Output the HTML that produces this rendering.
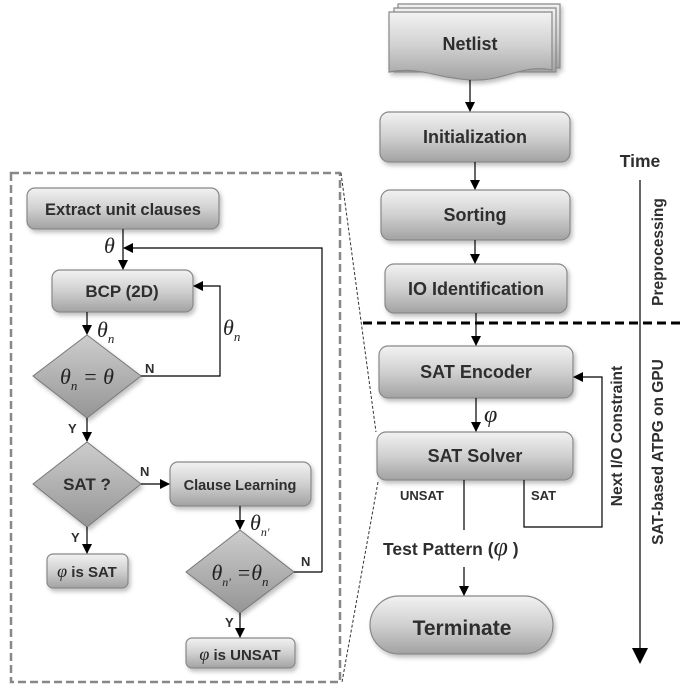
<!DOCTYPE html>
<html><head><meta charset="utf-8"><style>
html,body{margin:0;padding:0;background:#fff;}
svg{display:block;}
text{font-family:"Liberation Sans",sans-serif;font-weight:bold;fill:#2e2e2e;}
.m{font-family:"Liberation Serif",serif;font-style:italic;font-weight:normal;fill:#222;}
</style></head><body>
<svg width="685" height="691" viewBox="0 0 685 691" xmlns="http://www.w3.org/2000/svg">
<defs>
<linearGradient id="g" x1="0" y1="0" x2="0" y2="1">
<stop offset="0" stop-color="#f2f2f2"/><stop offset="0.5" stop-color="#d0d0d0"/><stop offset="1" stop-color="#a2a2a2"/>
</linearGradient>
<linearGradient id="gd" x1="0" y1="0" x2="0" y2="1">
<stop offset="0" stop-color="#cdcdcd"/><stop offset="1" stop-color="#959595"/>
</linearGradient>
<filter id="sh" x="-10%" y="-10%" width="130%" height="140%">
<feDropShadow dx="2" dy="3" stdDeviation="2" flood-color="#000" flood-opacity="0.25"/>
</filter>
<marker id="a" markerWidth="10" markerHeight="10" refX="9" refY="5" orient="auto" markerUnits="userSpaceOnUse">
<path d="M0,0 L10,5 L0,10 z" fill="#000"/></marker>
<marker id="A" markerWidth="16" markerHeight="22" refX="15" refY="8" orient="auto" markerUnits="userSpaceOnUse">
<path d="M0,0 L16,8 L0,16 z" fill="#000"/></marker>
</defs>
<g stroke="#888" stroke-width="1.2" fill="url(#g)" filter="url(#sh)">
<path d="M398,4 H560 V68 H398 z"/>
<path d="M394,8 H556 V72 H394 z"/>
<path d="M389,12 H552 V70 C520,64 505,82 470,80 C435,78 420,66 389,72 z"/>
<rect x="380" y="112" width="190" height="50" rx="9"/>
<rect x="381" y="190" width="189" height="50" rx="9"/>
<rect x="385" y="264" width="182" height="49" rx="9"/>
<rect x="379" y="346" width="194" height="52" rx="9"/>
<rect x="377" y="432" width="196" height="48" rx="9"/>
<rect x="370" y="596" width="183" height="58" rx="29"/>
<rect x="27" y="188" width="192" height="41" rx="8"/>
<rect x="52" y="270" width="141" height="42" rx="8"/>
<rect x="170" y="462" width="141" height="44" rx="8"/>
<rect x="47" y="554" width="81" height="34" rx="6"/>
<rect x="186" y="638" width="109" height="30" rx="6"/>
</g>
<g stroke="#777" stroke-width="1" fill="url(#gd)" filter="url(#sh)">
<path d="M87,335 L141,376 L87,418 L33,376 z"/>
<path d="M87,442 L141,484 L87,527 L33,484 z"/>
<path d="M240,530 L294,572 L240,613 L186,572 z"/>
</g>
<text x="470" y="50" font-size="18" text-anchor="middle">Netlist</text>
<text x="475" y="143" font-size="18" text-anchor="middle">Initialization</text>
<text x="475" y="221" font-size="18" text-anchor="middle">Sorting</text>
<text x="476" y="295" font-size="18" text-anchor="middle">IO Identification</text>
<text x="476" y="378" font-size="18" text-anchor="middle">SAT Encoder</text>
<text x="475" y="462" font-size="18" text-anchor="middle">SAT Solver</text>
<text x="462" y="635" font-size="21" text-anchor="middle">Terminate</text>
<text x="123" y="215" font-size="16.5" text-anchor="middle">Extract unit clauses</text>
<text x="122" y="297" font-size="17" text-anchor="middle">BCP (2D)</text>
<text x="240" y="490" font-size="14.5" text-anchor="middle">Clause Learning</text>
<text x="87" y="490" font-size="17" text-anchor="middle">SAT ?</text>
<text x="87" y="577" font-size="15" text-anchor="middle"><tspan class="m" font-size="18">φ</tspan> is SAT</text>
<text x="240" y="660" font-size="15" text-anchor="middle"><tspan class="m" font-size="18">φ</tspan> is UNSAT</text>
<text class="m" x="87" y="384" font-size="22" text-anchor="middle">θ<tspan font-size="13" dy="6">n</tspan><tspan dy="-6"> = θ</tspan></text>
<text class="m" x="240" y="580" font-size="22" text-anchor="middle">θ<tspan font-size="12" dy="6">n'</tspan><tspan dy="-6"> =θ</tspan><tspan font-size="13" dy="6">n</tspan></text>
<text class="m" x="104" y="253" font-size="22">θ</text>
<text class="m" x="97" y="337" font-size="22">θ<tspan font-size="13" dy="6">n</tspan></text>
<text class="m" x="223" y="335" font-size="22">θ<tspan font-size="13" dy="6">n</tspan></text>
<text class="m" x="250" y="530" font-size="22">θ<tspan font-size="12" dy="6">n'</tspan></text>
<text class="m" x="484" y="422" font-size="24">φ</text>
<g font-size="13">
<text x="145" y="373">N</text><text x="68" y="433">Y</text>
<text x="140" y="476">N</text><text x="71" y="542">Y</text>
<text x="301" y="566">N</text><text x="225" y="627">Y</text>
<text x="400" y="500">UNSAT</text><text x="531" y="500">SAT</text>
</g>
<text x="383" y="555" font-size="17.5">Test Pattern (<tspan class="m" font-size="26">φ</tspan> )</text>
<text x="640" y="167" font-size="17.5" text-anchor="middle">Time</text>
<text transform="translate(663,252) rotate(-90)" font-size="15.5" text-anchor="middle">Preprocessing</text>
<text transform="translate(622,436) rotate(-90)" font-size="15.5" text-anchor="middle">Next I/O Constraint</text>
<text transform="translate(663,452) rotate(-90)" font-size="15.5" text-anchor="middle">SAT-based  ATPG on GPU</text>
<g stroke="#000" stroke-width="1.2" fill="none">
<line x1="470" y1="80" x2="470" y2="111" marker-end="url(#a)"/>
<line x1="475" y1="162" x2="475" y2="189" marker-end="url(#a)"/>
<line x1="475" y1="240" x2="475" y2="263" marker-end="url(#a)"/>
<line x1="476" y1="313" x2="476" y2="345" marker-end="url(#a)"/>
<line x1="476" y1="398" x2="476" y2="431" marker-end="url(#a)"/>
<line x1="464" y1="480" x2="464" y2="530"/>
<line x1="464" y1="567" x2="464" y2="595" marker-end="url(#a)"/>
<polyline points="524,480 524,527 602,527 602,377 574,377" marker-end="url(#a)"/>
<line x1="640" y1="180" x2="640" y2="663" marker-end="url(#A)"/>
<line x1="123" y1="229" x2="123" y2="269" marker-end="url(#a)"/>
<polyline points="322,572 322,248 124,248" marker-end="url(#a)"/>
<polyline points="141,376 220,376 220,286 194,286" marker-end="url(#a)"/>
<polyline points="294,572 322,572"/>
<line x1="87" y1="312" x2="87" y2="334" marker-end="url(#a)"/>
<line x1="87" y1="418" x2="87" y2="441" marker-end="url(#a)"/>
<line x1="87" y1="527" x2="87" y2="553" marker-end="url(#a)"/>
<line x1="141" y1="484" x2="169" y2="484" marker-end="url(#a)"/>
<line x1="240" y1="506" x2="240" y2="529" marker-end="url(#a)"/>
<line x1="240" y1="613" x2="240" y2="637" marker-end="url(#a)"/>
</g>
<line x1="363" y1="323" x2="685" y2="323" stroke="#000" stroke-width="3" stroke-dasharray="9,5"/>
<rect x="11" y="173" width="329" height="509" fill="none" stroke="#888" stroke-width="2.5" stroke-dasharray="8,4"/>
<line x1="341" y1="173" x2="376" y2="432" stroke="#333" stroke-width="1" stroke-dasharray="3,2"/>
<line x1="378" y1="482" x2="342" y2="682" stroke="#333" stroke-width="1" stroke-dasharray="3,2"/>
</svg>
</body></html>
